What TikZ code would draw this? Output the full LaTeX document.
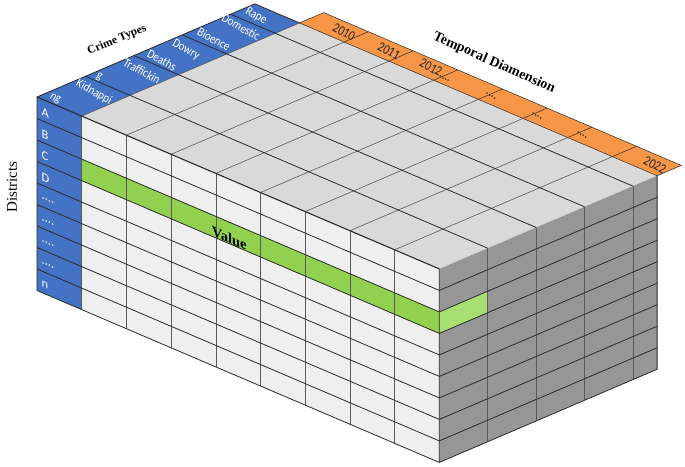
\documentclass[tikz,border=0pt]{standalone}
\usepackage{fontspec}
\setmainfont{Liberation Serif}
\newfontfamily\lblfont{Carlito}
\newcommand\fdots{....}
\definecolor{cblue}{HTML}{4472C4}
\definecolor{corange}{HTML}{F79646}
\definecolor{cgreen}{HTML}{92D050}
\definecolor{clgreen}{HTML}{A8DF72}
\definecolor{cfront}{HTML}{F0EFEF}
\definecolor{ctop}{HTML}{D9D9D9}
\definecolor{cside}{HTML}{969696}
\definecolor{cdark}{HTML}{2B2B2B}
\definecolor{cgrey}{HTML}{5A5A5A}
\tikzset{
  darkline/.style={draw=cdark, line width=0.8pt},
  greyline/.style={draw=cgrey, line width=0.6pt},
  edgeline/.style={draw=cdark, line width=1.1pt},
  fronttxt/.style={transform shape, yslant=-0.427, inner sep=0pt},
  bluelbl/.style={text=white, inner sep=0pt, rotate=-29, yscale=1.1, xscale=0.95,
    font=\lblfont\fontsize{11.5}{12}\selectfont},
  distlbl/.style={text=white, font=\lblfont\fontsize{12.5}{13}\selectfont},
  yearlbl/.style={text=black!85, inner sep=0pt, rotate=-29, yscale=1.2,
    font=\lblfont\fontsize{11.5}{12}\selectfont},
  titlelbl/.style={inner sep=0pt},
}
\begin{document}
\begin{tikzpicture}[x=1pt,y=1pt]
\useasboundingbox (0,0) rectangle (685,-466);
\begin{scope}[shift={(37pt,-97pt)}, x={(44.7pt,-19.1pt)}, y={(0pt,-21.5pt)}, z={(48.4pt,20.7pt)}]
  % ---------- fills
  \fill[cfront] (1,0,0) -- (9,0,0) -- (9,9,0) -- (1,9,0) -- cycle;
  \fill[cblue]  (0,0,0) -- (1,0,0) -- (1,9,0) -- (0,9,0) -- cycle;
  \fill[cgreen] (1,2,0) -- (9,2,0) -- (9,3,0) -- (1,3,0) -- cycle;
  \fill[ctop]   (1,0,0) -- (9,0,0) -- (9,0,4.5) -- (1,0,4.5) -- cycle;
  \fill[cblue]  (0,0,0) -- (1,0,0) -- (1,0,4.5) -- (0,0,4.5) -- cycle;
  \fill[corange](1,0,4.5) -- (9,0,4.5) -- (9,0,5) -- (1,0,5) -- cycle;
  \fill[cside]  (9,0,0) -- (9,0,4.5) -- (9,9,4.5) -- (9,9,0) -- cycle;
  \fill[clgreen](9,2,0) -- (9,2,1) -- (9,3,1) -- (9,3,0) -- cycle;
  % ---------- front face grid
  \foreach \c in {1,...,8} \draw[greyline] (\c,0,0) -- (\c,9,0);
  \foreach \r in {1,...,8} \draw[darkline] (0,\r,0) -- (9,\r,0);
  % ---------- side face grid
  \foreach \d in {1,...,4} \draw[greyline] (9,0,\d) -- (9,9,\d);
  \foreach \r in {1,...,8} \draw[darkline] (9,\r,0) -- (9,\r,4.5);
  % ---------- top face grid
  \foreach \c in {1,...,8} \draw[greyline] (\c,0,0) -- (\c,0,4.5);
  \foreach \c in {2,...,8} \draw[darkline, line width=0.5pt] (\c,0,4.5) -- (\c,0,5);
  \foreach \d in {1,...,4} \draw[darkline] (0,0,\d) -- (9,0,\d);
  \draw[darkline, line width=0.5pt] (1,0,4.5) -- (9,0,4.5);
  % ---------- outlines
  \draw[edgeline] (0,0,0) -- (9,0,0);
  \draw[darkline] (9,0,0) -- (9,9,0) -- (0,9,0) -- (0,0,0) -- (0,0,4.5) -- (1,0,4.5);
  \draw[darkline] (9,9,0) -- (9,9,4.5) -- (9,0,4.5);
  \draw[darkline, line width=0.5pt] (1,0,4.5) -- (1,0,5) -- (9,0,5) -- (9,0,4.5);
  % ---------- district labels
  \foreach \t [count=\i from 0] in {A,B,C,D,\fdots,\fdots,\fdots,\fdots,n}
    \node[fronttxt, distlbl, anchor=west] (d\i) at (0.1,\i+0.6,0) {\t};
  % ---------- value
  \node[fronttxt, font=\bfseries\fontsize{14.5}{16}\selectfont] (val) at (4.3,2.75,0) {Value};
\end{scope}
% ---------- crime type labels (blue strip)
\node[bluelbl] (k4)  at (256,-16) {Rape};
\node[bluelbl] (k3a) at (241,-27) {Domestic};
\node[bluelbl] (k3b) at (214,-39) {Bioence};
\node[bluelbl] (k2a) at (186,-50) {Dowry};
\node[bluelbl] (k2b) at (162,-60) {Deaths};
\node[bluelbl] (k1a) at (142,-71) {Traffickin};
\node[bluelbl] (k1b) at (99,-77) {g};
\node[bluelbl] (k0a) at (94,-92) {Kidnappi};
\node[bluelbl] (k0b) at (55,-99) {ng};
% ---------- year labels (orange strip)
\node[yearlbl] (y1) at (344,-32) {2010};
\node[yearlbl] (y2) at (389,-51) {2011};
\node[yearlbl] (y3) at (436,-70) {2012\fdots};
\node[yearlbl] (y4) at (491,-96) {\fdots};
\node[yearlbl] (y5) at (537,-116) {\fdots};
\node[yearlbl] (y6) at (582,-135) {\fdots};
\node[yearlbl] (y7) at (655,-165) {2022};
% ---------- titles
\node[titlelbl, rotate=90, font=\fontsize{15}{17}\selectfont] (dist) at (12,-187) {Districts};
\node[titlelbl, rotate=23, font=\bfseries\fontsize{11.5}{13}\selectfont] (ct) at (117,-40) {Crime Types};
\node[titlelbl, rotate=-24, font=\bfseries\fontsize{14}{16}\selectfont] (td) at (494,-63) {Temporal Diamension};
\end{tikzpicture}
\end{document}
